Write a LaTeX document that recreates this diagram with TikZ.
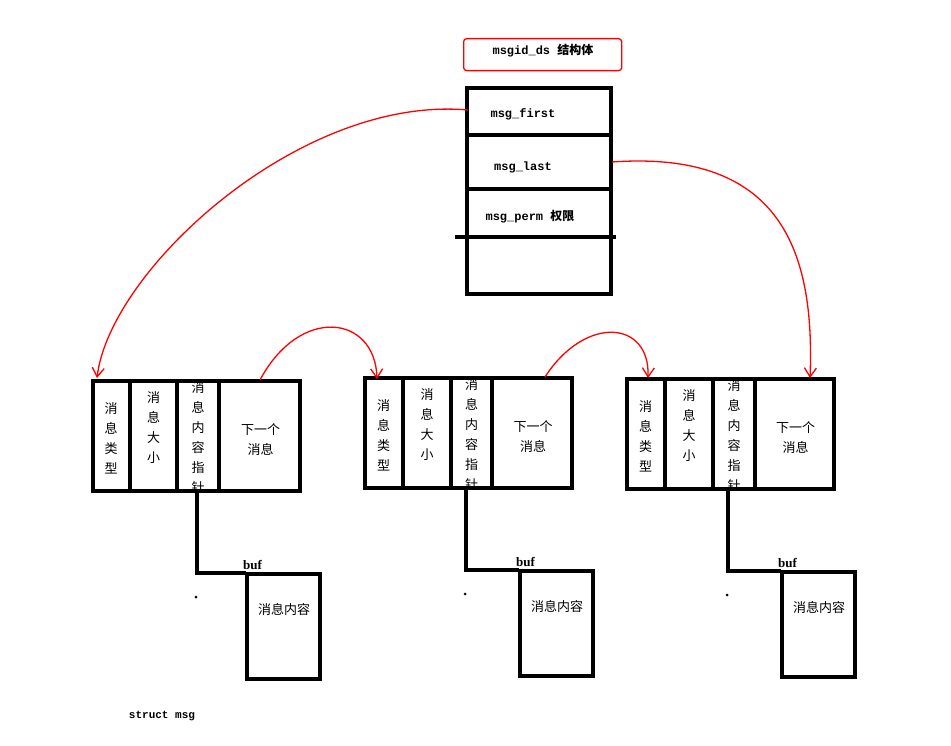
\documentclass[tikz,border=0pt]{standalone}
\usepackage{fontspec}
\setmainfont{Liberation Serif}
\newfontfamily\cjk{Noto Sans CJK SC}
\newfontfamily\mono{Liberation Mono}
\usetikzlibrary{arrows.meta}
\begin{document}
\begin{tikzpicture}[x=1pt,y=-1pt,
  box/.style={draw,line width=3.2pt,inner sep=0pt,outer sep=0pt,anchor=north west},
  cj/.style={font=\cjk\fontsize{13}{20}\selectfont,align=center,inner sep=0pt},
  mt/.style={font=\mono\bfseries\fontsize{12}{14}\selectfont,inner sep=0pt},
  red/.style={draw=red,line width=1.3pt},
  rarr/.style={red,-{Straight Barb[length=9pt,width=12pt]}},
  wire/.style={line width=3.2pt}]
\useasboundingbox (0,0) rectangle (951,746);
% top struct
\node[red,minimum width=158pt,minimum height=32pt,rounded corners=3pt,anchor=north west] (title) at (463,38) {};
\node[inner sep=0pt,font=\mono\bfseries\fontsize{12}{14}\selectfont] (tt) at (543,51) {msgid\_ds {\cjk 结构体}};
\node[box,minimum width=144pt,minimum height=206pt] (ds) at (467,88) {};
\draw[wire] (466,135) -- (612,135);
\draw[wire] (466,189) -- (612,189);
\draw[wire] (455,237) -- (616,237);
\node[mt] (mf) at (523,114) {msg\_first};
\node[mt] (ml) at (523,167) {msg\_last};
\node[mt] (mp) at (530,217) {msg\_perm {\cjk 权限}};
\coordinate (mfs) at (468,110);
% message boxes
\foreach \i/\x/\y/\a/\b/\c/\px/\bx in {1/92/380/130/177/219/197/246, 2/364/377/403/451/492/466/519, 3/626/378/665/713/755/728/781}{
  \node[box,minimum width=207pt,minimum height=110pt] (m\i) at (\x+1,\y+1) {};
  \draw[wire] (\a,\y) -- (\a,\y+112);
  \draw[wire] (\b,\y) -- (\b,\y+112);
  \draw[wire] (\c,\y) -- (\c,\y+112);
  \node[cj] (t\i) at ({(\x+\a)/2},\y+58) {消\\息\\类\\型};
  \node[cj] (s\i) at ({(\a+\b)/2},\y+48) {消\\息\\大\\小};
  \node[cj,anchor=north] (p\i) at ({(\b+\c)/2},\y+1) {消\\息\\内\\容\\指\\针};
  \node[cj] (n\i) at ({(\c+\x+210)/2},\y+60) {下一个\\消息};
  \node[box,minimum width=73pt,minimum height=105pt] (b\i) at (\bx+1,\y+194) {};
  \coordinate (k\i) at (\px,\y+193);
  \draw[wire] (\px,\y+112) -- (k\i) -- (\bx,\y+193);
  \node[inner sep=0pt,font=\fontsize{13}{14}\selectfont\bfseries,anchor=south west] (bl\i) at (\bx-3,\y+190) {buf};
  \node[cj] (c\i) at (\bx+38,\y+230) {消息内容};
  \fill (\px-1,\y+217) circle (1.5pt);
}
\node[inner sep=0pt,font=\mono\bfseries\fontsize{11}{12}\selectfont] (sm) at (162,716) {struct msg};
% red arrows
\draw[rarr] (mfs) .. controls (300,95) and (110,270) .. (97,378);
\draw[rarr] (612,162) .. controls (780,150) and (815,250) .. (810,378);
\draw[rarr] (260,380) .. controls (300,305) and (375,315) .. (377,379);
\draw[rarr] (545,377) .. controls (585,315) and (650,320) .. (648,378);
\end{tikzpicture}
\end{document}
